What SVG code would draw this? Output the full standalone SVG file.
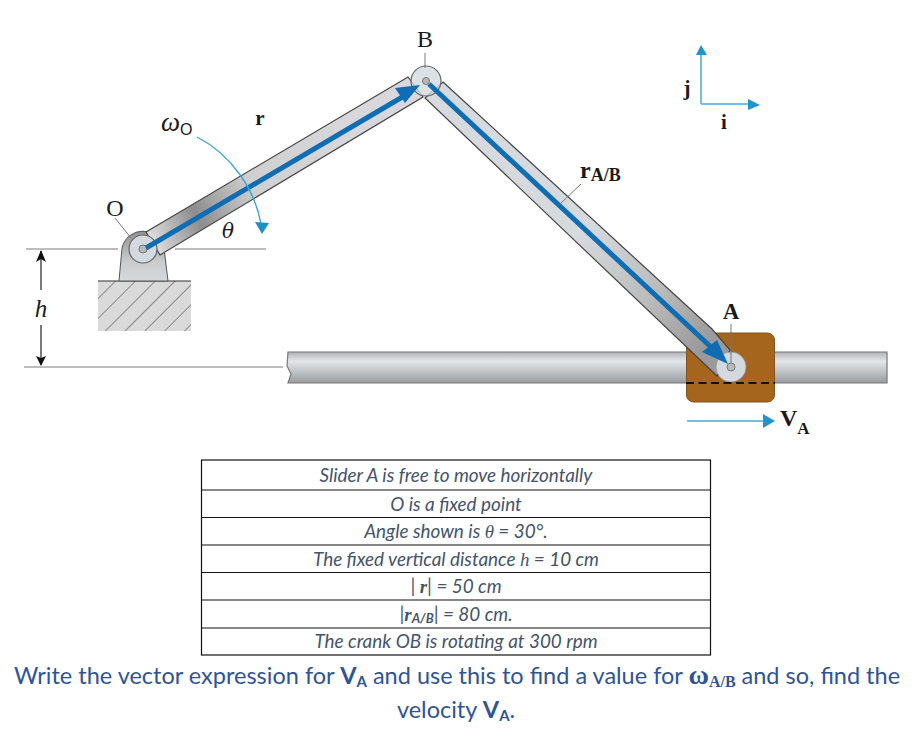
<svg xmlns="http://www.w3.org/2000/svg" width="918" height="737" viewBox="0 0 918 737">
<style>
.ser{font-family:"Liberation Serif","DejaVu Serif",serif;fill:#1a1a1a}
.bold{font-weight:bold}
.it{font-style:italic}
.tbl{font-family:Lato,"Open Sans",sans-serif;font-style:italic;font-size:18.9px;fill:#44546A;text-anchor:middle}
.q{font-family:Lato,"Open Sans",sans-serif;font-size:23.5px;fill:#2F5496;text-anchor:middle}
.ref{fill:none;stroke:#bdbdbd;stroke-width:2}
.lead{fill:none;stroke:#777;stroke-width:1}
.dim{fill:none;stroke:#222;stroke-width:1.2}
.rowline{stroke:#111;stroke-width:1.2}
.rod{stroke:#444;stroke-width:1.2}
.vec{fill:none;stroke:#0F6DB3;stroke-width:5}
.light{fill:none;stroke:#6FC0E4;stroke-width:2}
.pin{fill:#D3D9DF;stroke:#666;stroke-width:1.2}
.hub{fill:#B5BABF;stroke:#777;stroke-width:1}
</style>
<defs>
<linearGradient id="gOB" gradientUnits="userSpaceOnUse" x1="150" y1="235" x2="350" y2="130">
<stop offset="0" stop-color="#dcdcdc"/><stop offset=".22" stop-color="#8d8d8d"/><stop offset=".5" stop-color="#cfcfcf"/><stop offset="1" stop-color="#d8d8dc"/>
</linearGradient>
<linearGradient id="gAB" gradientUnits="userSpaceOnUse" x1="590" y1="225" x2="710" y2="340">
<stop offset="0" stop-color="#d6d9de"/><stop offset=".6" stop-color="#b9b9b9"/><stop offset="1" stop-color="#9a9a9a"/>
</linearGradient>
<linearGradient id="gRail" x1="0" y1="0" x2="0" y2="1">
<stop offset="0" stop-color="#b0b3b6"/><stop offset=".3" stop-color="#e4e6e8"/><stop offset=".7" stop-color="#b8bbbe"/><stop offset="1" stop-color="#9a9da0"/>
</linearGradient>
<linearGradient id="gBr" x1="0" y1="0" x2="0" y2="1">
<stop offset="0" stop-color="#8f9194"/><stop offset=".6" stop-color="#c8cacc"/><stop offset="1" stop-color="#d8d9da"/>
</linearGradient>
<pattern id="hatch" width="14" height="14" patternUnits="userSpaceOnUse" patternTransform="rotate(45)">
<rect width="14" height="14" fill="#DADADA"/><line x1="0" y1="0" x2="0" y2="14" stroke="#666" stroke-width="1.4"/>
</pattern>
<marker id="mBlack" markerWidth="10" markerHeight="12" refX="9" refY="5" orient="auto" markerUnits="userSpaceOnUse"><path d="M0 0L10 5L0 10L2 5Z" fill="#111"/></marker>
</defs>

<g id="references">
<path class="ref" d="M26 249H118M175 249H266M24 367H283"/>
</g>

<g id="rail">
<path d="M288 352H887V383H288L291 374L287 366Z" fill="url(#gRail)" stroke="#777" stroke-width="1.2"/>
</g>

<g id="support-O">
<rect x="98" y="281" width="93" height="50" fill="url(#hatch)"/>
<line x1="98" y1="281" x2="191" y2="281" stroke="#333" stroke-width="1.2"/>
<path d="M119 281L122 248A21.500 21.500 0 0 1 164 248L168 281Z" fill="url(#gBr)" stroke="#555" stroke-width="1"/>
</g>

<g id="slider-A">
<rect x="686.500" y="333" width="88" height="69" rx="7" fill="#A5651C" stroke="#7d5523" stroke-width="1"/>
</g>

<g id="link-OB">
<path class="rod" d="M146 232L408 77L423 97L160 255Z" fill="url(#gOB)"/>
</g>
<g id="link-AB">
<path class="rod" d="M443 82L712 329L730 350L717 376L425 98Z" fill="url(#gAB)"/>
</g>

<g id="joint-O">
<circle class="pin" cx="143" cy="249" r="14"/>
<circle class="hub" cx="143" cy="249" r="4"/>
</g>
<g id="joint-B">
<circle class="pin" cx="426" cy="81" r="15" fill-opacity=".8"/>
<circle class="hub" cx="426" cy="81" r="3.500"/>
</g>
<g id="joint-A">
<circle cx="731" cy="367" r="15" fill="#D3D9DF" stroke="#999" stroke-width=".8"/>
<circle class="hub" cx="731" cy="367" r="4"/>
</g>
<g id="dashes">
<line x1="686" y1="383" x2="775" y2="383" stroke="#111" stroke-width="2" stroke-dasharray="8 4.500"/>
</g>

<g id="connectors">
<line class="vec" x1="146" y1="248" x2="404" y2="96"/>
<path d="M420 85L395 88L405 103Z" fill="#0F6DB3"/>
<line class="vec" x1="429" y1="84" x2="712" y2="348"/>
<path d="M728 364L717 340L702 352Z" fill="#0F6DB3"/>
<path class="lead" d="M115 218L131 238M425 53V68M731 324V363M581 184L560 204"/>
<path class="dim" d="M41 251V290M41 325V365" marker-end="url(#mBlack)"/>
<path d="M41 250L36 262L41 259L46 262Z" fill="#111"/>
<path d="M197 137C232 155 255 190 261 224" fill="none" stroke="#3AA5D6" stroke-width="1.4"/>
<path d="M255 222L269 223L262 234Z" fill="#1B8FCB"/>
<line class="light" x1="701" y1="104" x2="701" y2="52"/>
<path d="M696 55L701 45L707 55Z" fill="#1F94CF"/>
<line class="light" x1="701" y1="104" x2="750" y2="104"/>
<path d="M748 99L760 105L748 110Z" fill="#1F94CF"/>
<line class="light" x1="687" y1="421" x2="765" y2="421"/>
<path d="M763 414L775 421L763 428Z" fill="#1F94CF"/>
</g>

<g id="labels">
<text class="ser" x="425" y="47" font-size="24" text-anchor="middle">B</text>
<text class="ser" x="115" y="216" font-size="24" text-anchor="middle">O</text>
<text class="ser bold" x="731" y="319" font-size="23" text-anchor="middle">A</text>
<text class="ser bold" x="260" y="125" font-size="21" text-anchor="middle">r</text>
<text class="ser it" x="161" y="131" font-size="27">ω<tspan font-family="Liberation Sans" font-size="16" dy="4" font-style="normal">O</tspan></text>
<text x="228" y="238" font-family="DejaVu Serif" font-style="italic" font-size="20" fill="#1a1a1a" text-anchor="middle">θ</text>
<text class="ser it" x="41" y="317" font-size="25" text-anchor="middle">h</text>
<text class="ser bold" x="580" y="178" font-size="24">r<tspan dy="3" font-size="18">A/B</tspan></text>
<text class="ser bold" x="780" y="426" font-size="24">V<tspan dy="8" font-size="17">A</tspan></text>
<text class="ser" x="687" y="95" font-size="21" font-weight="bold" text-anchor="middle">j</text>
<text class="ser" x="724" y="129" font-size="21" font-weight="bold" text-anchor="middle">i</text>
</g>

<g id="table">
<rect x="201.500" y="460" width="509" height="195" fill="none" stroke="#111" stroke-width="1.2"/>
<path class="rowline" d="M201 490H711M201 517.500H711M201 545H711M201 572.500H711M201 600H711M201 628H711"/>
<text class="tbl" x="456" y="482">Slider A is free to move horizontally</text>
<text class="tbl" x="456" y="511">O is a fixed point</text>
<text class="tbl" x="456" y="538">Angle shown is <tspan font-family="Liberation Serif">θ</tspan> = 30°.</text>
<text class="tbl" x="456" y="566">The fixed vertical distance <tspan font-family="Liberation Serif">h</tspan> = 10 cm</text>
<text class="tbl" x="456" y="593">| <tspan font-weight="bold" font-family="Liberation Serif">r</tspan>| = 50 cm</text>
<text class="tbl" x="456" y="621">|<tspan font-weight="bold" font-family="Liberation Serif">r</tspan><tspan font-weight="bold" font-size="13" dy="2">A/B</tspan><tspan dy="-2">| = 80 cm.</tspan></text>
<text class="tbl" x="456" y="648">The crank OB is rotating at 300 rpm</text>
</g>

<g id="question">
<text class="q" x="457" y="684">Write the vector expression for <tspan font-weight="bold">V<tspan font-size="15" dy="3">A</tspan></tspan><tspan dy="-3"> and use this to find a value for </tspan><tspan font-weight="bold" font-family="Liberation Serif" font-size="28">ω<tspan font-size="16" dy="3">A/B</tspan></tspan><tspan dy="-3"> and so, find the</tspan></text>
<text class="q" x="456" y="718">velocity <tspan font-weight="bold">V<tspan font-size="15" dy="3">A</tspan></tspan><tspan dy="-3">.</tspan></text>
</g>
</svg>
